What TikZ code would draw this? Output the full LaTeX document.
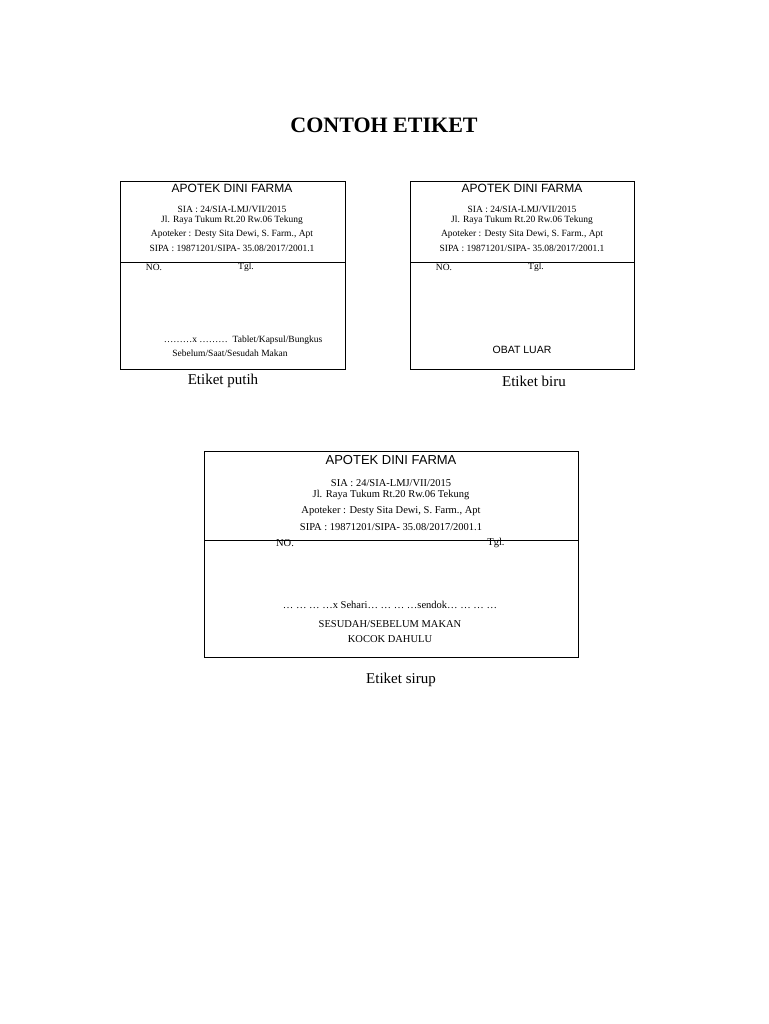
\documentclass[tikz,border=0pt]{standalone}
\usepackage{fontspec}
\setmainfont{Liberation Serif}
\newfontfamily\hs{Liberation Sans}
\begin{document}
\begin{tikzpicture}[x=1pt,y=-1pt,
  box/.style={draw,line width=0.7pt},
  sm/.style={font=\fontsize{9.5}{10}\selectfont,inner sep=0pt},
  hd/.style={font=\hs\fontsize{12}{12}\selectfont,inner sep=0pt},
  captxt/.style={font=\fontsize{15}{15}\selectfont,inner sep=0pt}]
\useasboundingbox[fill=white] (0,0) rectangle (768,1024);
\node[font=\bfseries\fontsize{22}{22}\selectfont,inner sep=0pt] (t) at (384,125) {CONTOH ETIKET};
% box 1
\draw[box] (120,181) rectangle (345,369);
\draw[box] (120,262) -- (345,262);
\node[hd] (a1) at (232,188) {APOTEK DINI FARMA};
\node[sm] (b1) at (232,209) {SIA : 24/SIA-LMJ/VII/2015};
\node[sm] (c1) at (232,220) {Jl. Raya Tukum Rt.20 Rw.06 Tekung};
\node[sm] (d1) at (232,234) {Apoteker : Desty Sita Dewi, S. Farm., Apt};
\node[sm] (e1) at (232,248) {SIPA : 19871201/SIPA- 35.08/2017/2001.1};
\node[sm] (f1) at (154,267) {NO.};
\node[sm] (g1) at (246,267) {Tgl.};
\node[sm] (h1) at (243,340) {\dots\dots\dots x \dots\dots\dots\ \ Tablet/Kapsul/Bungkus};
\node[sm] (i1) at (230,353) {Sebelum/Saat/Sesudah Makan};
\node[captxt] (j1) at (223,381) {Etiket putih};
% box 2
\draw[box] (410,181) rectangle (634,369);
\draw[box] (410,262) -- (634,262);
\node[hd] (a2) at (522,188) {APOTEK DINI FARMA};
\node[sm] (b2) at (522,209) {SIA : 24/SIA-LMJ/VII/2015};
\node[sm] (c2) at (522,220) {Jl. Raya Tukum Rt.20 Rw.06 Tekung};
\node[sm] (d2) at (522,234) {Apoteker : Desty Sita Dewi, S. Farm., Apt};
\node[sm] (e2) at (522,248) {SIPA : 19871201/SIPA- 35.08/2017/2001.1};
\node[sm] (f2) at (444,267) {NO.};
\node[sm] (g2) at (536,267) {Tgl.};
\node[hd,font=\hs\fontsize{10.5}{11}\selectfont] (h2) at (522,350) {OBAT LUAR};
\node[captxt] (j2) at (534,381) {Etiket biru};
% box 3
\draw[box] (204,451) rectangle (578,657);
\draw[box] (204,540) -- (578,540);
\node[hd,font=\hs\fontsize{13}{13}\selectfont] (a3) at (391,460) {APOTEK DINI FARMA};
\node[sm,font=\fontsize{10.5}{11}\selectfont] (b3) at (391,483) {SIA : 24/SIA-LMJ/VII/2015};
\node[sm,font=\fontsize{10.5}{11}\selectfont] (c3) at (391,495) {Jl. Raya Tukum Rt.20 Rw.06 Tekung};
\node[sm,font=\fontsize{10.5}{11}\selectfont] (d3) at (391,511) {Apoteker : Desty Sita Dewi, S. Farm., Apt};
\node[sm,font=\fontsize{10.5}{11}\selectfont] (e3) at (391,527) {SIPA : 19871201/SIPA- 35.08/2017/2001.1};
\node[sm,font=\fontsize{10.5}{11}\selectfont] (f3) at (285,543) {NO.};
\node[sm,font=\fontsize{10.5}{11}\selectfont] (g3) at (496,543) {Tgl.};
\node[sm,font=\fontsize{10.5}{11}\selectfont] (h3) at (390,605) {\dots\ \dots\ \dots\ \dots x Sehari\dots\ \dots\ \dots\ \dots sendok\dots\ \dots\ \dots\ \dots};
\node[sm,font=\fontsize{10.5}{11}\selectfont] (i3) at (390,624) {SESUDAH/SEBELUM MAKAN};
\node[sm,font=\fontsize{10.5}{11}\selectfont] (k3) at (390,639) {KOCOK DAHULU};
\node[captxt] (j3) at (401,680) {Etiket sirup};
\end{tikzpicture}
\end{document}
